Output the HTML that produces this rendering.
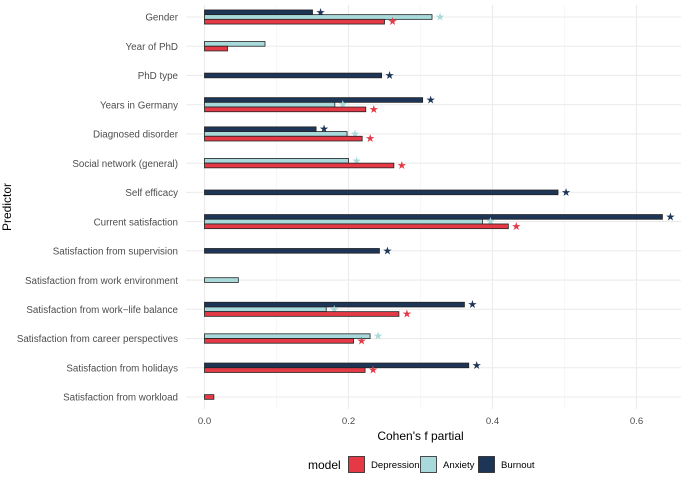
<!DOCTYPE html>
<html><head><meta charset="utf-8"><style>
body{margin:0;background:#fff;font-family:"Liberation Sans",sans-serif}
svg text{font-family:"Liberation Sans",sans-serif}
</style></head><body>
<svg id="c" width="685" height="480"></svg>
<script>
const categories=["Gender","Year of PhD","PhD type","Years in Germany","Diagnosed disorder","Social network (general)","Self efficacy","Current satisfaction","Satisfaction from supervision","Satisfaction from work environment","Satisfaction from work\u2212life balance","Satisfaction from career perspectives","Satisfaction from holidays","Satisfaction from workload"];
const burnout=[0.150,null,0.246,0.303,0.155,null,0.491,0.636,0.243,null,0.361,null,0.367,null];
const anxiety=[0.316,0.084,null,0.181,0.198,0.200,null,0.386,null,0.047,0.169,0.230,null,null];
const depression=[0.250,0.032,null,0.224,0.219,0.263,null,0.422,null,null,0.270,0.207,0.223,0.013];
const burnoutSig=[1,0,1,1,1,0,1,1,1,0,1,0,1,0];
const anxietySig=[1,0,0,1,1,1,0,1,0,0,1,1,0,0];
const depressionSig=[1,0,0,1,1,1,0,1,0,0,1,1,1,0];
const xTicks=[0,0.2,0.4,0.6];
const xTickLabels=["0.0","0.2","0.4","0.6"];
const xMinor=[0.1,0.3,0.5];

const NS="http://www.w3.org/2000/svg";
const svg=document.getElementById('c');
const X0=204.5,SC=720,Y0=17,DY=29.23,BH=4.7;
const px=v=>X0+v*SC, py=i=>Y0+i*DY;
function el(t,a,p){const e=document.createElementNS(NS,t);for(const k in a)e.setAttribute(k,a[k]);(p||svg).appendChild(e);return e;}
const L=186,R=681,T=5,B=409;
xMinor.forEach(v=>{const g=el('line',{x1:px(v),x2:px(v),y1:T,y2:B,stroke:'#f2f2f2','stroke-width':0.6});

});
xTicks.forEach((v,i)=>{const g=el('line',{x1:px(v),x2:px(v),y1:T,y2:B,stroke:'#ebebeb','stroke-width':1.1});


const t=el('text',{x:px(v),y:424,'text-anchor':'middle','font-size':9.6,fill:'#4d4d4d'});t.textContent=xTickLabels[i];

});
categories.forEach((c,i)=>{const g=el('line',{x1:L,x2:R,y1:py(i),y2:py(i),stroke:'#ebebeb','stroke-width':1.1});


const t=el('text',{x:178,y:py(i)+3.7,'text-anchor':'end','font-size':9.8,fill:'#4d4d4d'});t.textContent=c;

});
const series=[[burnout,burnoutSig,'#1d3557','burnout'],[anxiety,anxietySig,'#a8dadc','anxiety'],[depression,depressionSig,'#e63946','depression']];
categories.forEach((c,i)=>{
 const present=series.filter(s=>s[0][i]!==null);
 const n=present.length;
 present.forEach((s,k)=>{
  const v=s[0][i];const y=py(i)-n*BH/2+k*BH;
  const r=el('rect',{x:px(0),y:y,width:px(v)-px(0),height:BH,fill:s[2],stroke:'#222','stroke-width':0.8});
  
  
  if(s[1][i]){const t=el('text',{x:px(v)+8,y:y+BH/2+3.5,'text-anchor':'middle','font-size':11,fill:s[2]});t.textContent='\u2605';
  
  }
 });
});
let t=el('text',{x:px(0.3),y:440,'text-anchor':'middle','font-size':12,fill:'#000'});t.textContent="Cohen's f partial";


t=el('text',{x:0,y:0,transform:'translate(11,207) rotate(-90)','text-anchor':'middle','font-size':12,fill:'#000'});t.textContent="Predictor";


t=el('text',{x:308,y:469,'font-size':12,fill:'#000'});t.textContent="model";


[[348,'#e63946','Depression'],[420,'#a8dadc','Anxiety'],[478,'#1d3557','Burnout']].forEach(d=>{
 const r=el('rect',{x:d[0]+0.5,y:456.5,width:16,height:16,fill:d[1],stroke:'#222','stroke-width':0.8});
 
 
 const tt=el('text',{x:d[0]+23,y:468,'font-size':9.6,fill:'#000'});tt.textContent=d[2];
 
 
});
</script>
</body></html>
